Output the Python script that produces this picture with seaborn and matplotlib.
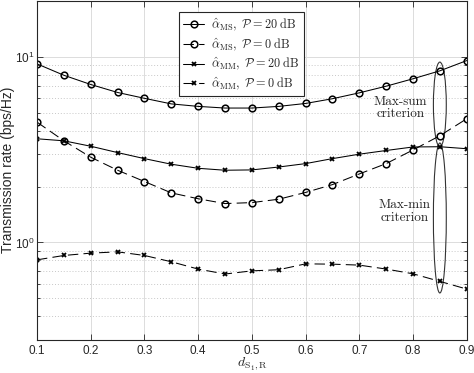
import matplotlib
matplotlib.use('Agg')
import matplotlib.pyplot as plt
import seaborn as sns
import numpy as np
from matplotlib.patches import Ellipse
from matplotlib.ticker import LogLocator, NullFormatter, FixedLocator

# distance d_{S1,R}
d = [0.1, 0.15, 0.2, 0.25, 0.3, 0.35, 0.4, 0.45, 0.5,
     0.55, 0.6, 0.65, 0.7, 0.75, 0.8, 0.85, 0.9]

# transmission rates (bps/Hz)
ms_20db = [9.17, 7.96, 7.10, 6.43, 5.98, 5.58, 5.41, 5.30, 5.30,
           5.41, 5.61, 5.95, 6.40, 6.95, 7.62, 8.41, 9.55]
ms_0db = [4.45, 3.53, 2.88, 2.45, 2.13, 1.85, 1.72, 1.62, 1.64,
          1.71, 1.86, 2.05, 2.34, 2.66, 3.15, 3.76, 4.64]
mm_20db = [3.62, 3.53, 3.30, 3.05, 2.83, 2.64, 2.51, 2.45, 2.46,
           2.55, 2.66, 2.83, 2.99, 3.13, 3.27, 3.28, 3.20]
mm_0db = [0.806, 0.851, 0.876, 0.890, 0.851, 0.787, 0.719, 0.676, 0.703,
          0.713, 0.767, 0.764, 0.755, 0.719, 0.678, 0.617, 0.561]

labels = [r'$\hat{\alpha}_{\mathrm{MS}},\ \mathcal{P} = 20\ \mathrm{dB}$',
          r'$\hat{\alpha}_{\mathrm{MS}},\ \mathcal{P} = 0\ \mathrm{dB}$',
          r'$\hat{\alpha}_{\mathrm{MM}},\ \mathcal{P} = 20\ \mathrm{dB}$',
          r'$\hat{\alpha}_{\mathrm{MM}},\ \mathcal{P} = 0\ \mathrm{dB}$']


def make_plot():
    sns.set_style('ticks')
    plt.rcParams['font.family'] = ['Liberation Sans', 'DejaVu Sans']
    plt.rcParams['mathtext.fontset'] = 'cm'

    fig = plt.figure(figsize=(4.74, 3.73), dpi=100)
    ax = fig.add_axes([0.0781, 0.0898, 0.9065, 0.9075])

    dash = (0, (10, 5))
    series = [(ms_20db, 'o', '-'), (ms_0db, 'o', dash),
              (mm_20db, 'x', '-'), (mm_0db, 'x', dash)]
    for (vals, mk, ls), lab in zip(series, labels):
        if mk == 'o':
            kw = dict(markersize=4.8, markerfacecolor='none', markeredgewidth=1.1)
        else:
            kw = dict(markersize=3.3, markeredgewidth=1.3)
        sns.lineplot(x=d, y=vals, ax=ax, color='black', linewidth=0.75,
                     linestyle=ls, marker=mk, markeredgecolor='black',
                     label=lab, **kw)

    ax.set_yscale('log')
    ax.set_xlim(0.1, 0.9)
    ax.set_ylim(0.3, 20)
    ax.xaxis.set_major_locator(FixedLocator(np.arange(0.1, 0.91, 0.1)))
    ax.set_xticklabels([f'{v:.1f}' for v in np.arange(0.1, 0.91, 0.1)])
    ax.yaxis.set_major_locator(LogLocator(base=10, numticks=10))
    ax.yaxis.set_minor_locator(LogLocator(base=10, subs=np.arange(2, 10), numticks=10))
    ax.yaxis.set_minor_formatter(NullFormatter())

    ax.grid(True, which='major', color='#dcdcdc', linewidth=0.7, linestyle='-')
    ax.grid(True, which='minor', axis='y', color='#c8c8c8', linewidth=0.7, linestyle=(0, (1, 2)))
    ax.set_axisbelow(True)

    for s in ax.spines.values():
        s.set_color('#262626')
        s.set_linewidth(0.8)
    ax.tick_params(which='both', direction='in', top=True, right=True,
                   labelsize=8.5, color='#262626', width=0.6)
    ax.tick_params(which='major', length=4)
    ax.tick_params(which='minor', length=2.5)
    ax.tick_params(axis='x', pad=4)
    ax.tick_params(axis='y', pad=2)

    ax.set_xlabel(r'$d_{\mathrm{S_1,R}}$', fontsize=10, labelpad=-1)
    ax.set_ylabel('Transmission rate (bps/Hz)', fontsize=10, labelpad=0)

    leg = ax.legend(loc='upper center', bbox_to_anchor=(0.476, 0.985),
                    fontsize=8.8, handlelength=1.7, handletextpad=0.6,
                    labelspacing=0.22, borderpad=0.35, fancybox=False,
                    framealpha=1, edgecolor='#262626')
    leg.get_frame().set_linewidth(0.8)

    # ellipses marking the two criteria at d = 0.85
    tr = ax.get_xaxis_transform()
    ax.add_patch(Ellipse((0.85, 0.694), 0.024, 0.251, transform=tr,
                         fill=False, edgecolor='#333333', linewidth=0.8))
    ax.add_patch(Ellipse((0.85, 0.359), 0.024, 0.443, transform=tr,
                         fill=False, edgecolor='#333333', linewidth=0.8))
    ax.text(0.777, 0.684, 'Max-sum\ncriterion', transform=tr, ha='center',
            va='center', fontsize=9.5, family='cmr10', linespacing=1.05)
    ax.text(0.785, 0.378, 'Max-min\ncriterion', transform=tr, ha='center',
            va='center', fontsize=9.5, family='cmr10', linespacing=1.05)

    fig.savefig('out.png', dpi=100)
    plt.close(fig)


if __name__ == '__main__':
    make_plot()
